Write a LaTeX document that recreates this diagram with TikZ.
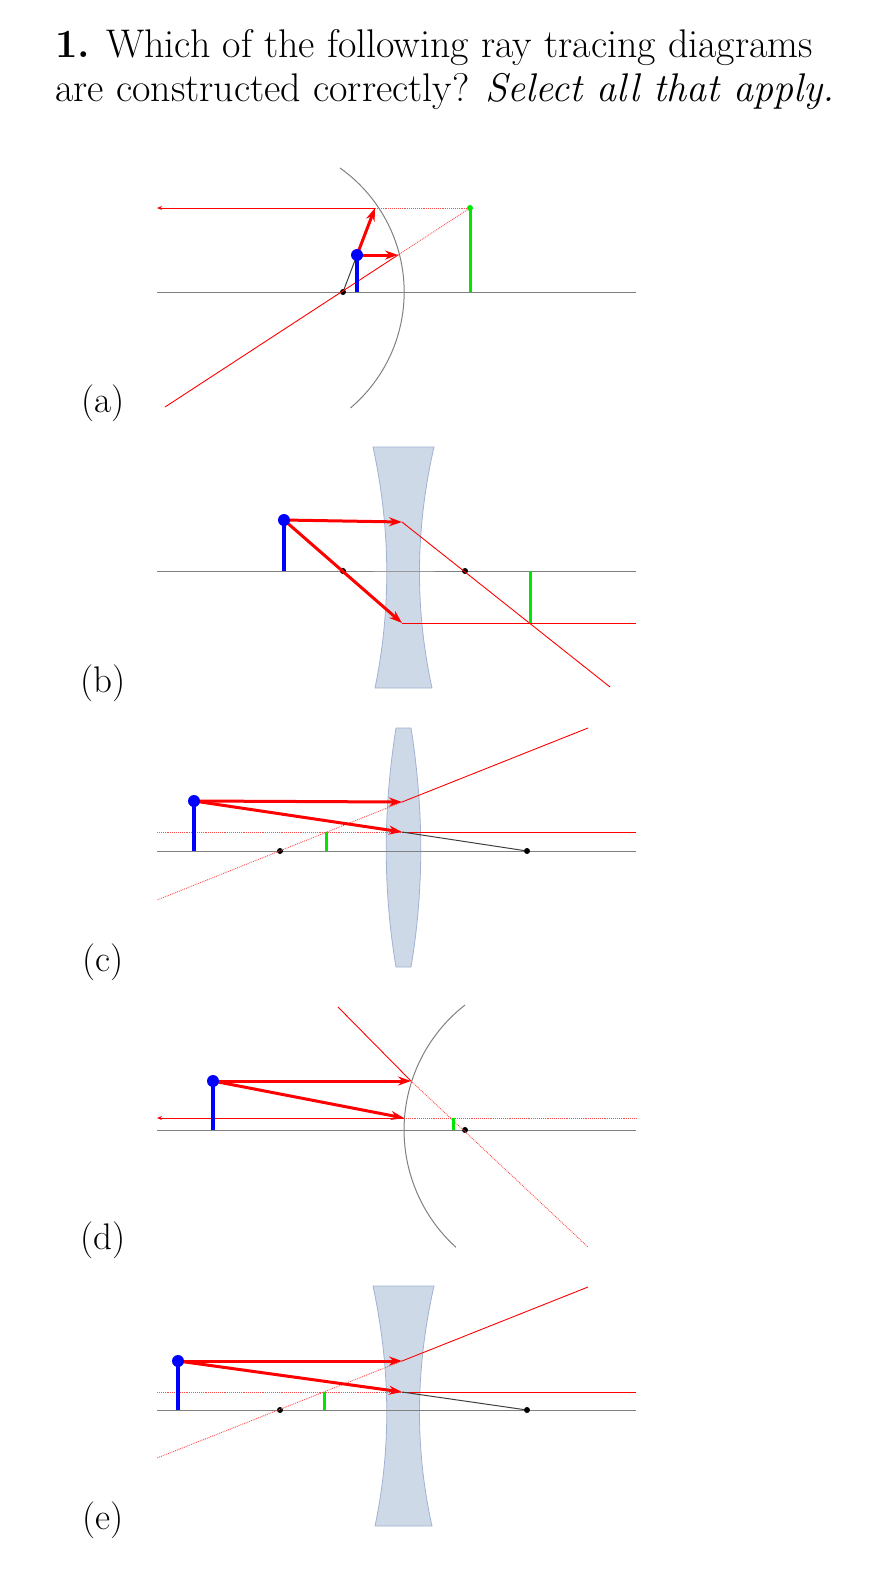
\documentclass[tikz,border=0pt]{standalone}
\usetikzlibrary{arrows.meta}
\definecolor{lensfill}{RGB}{206,217,232}
\definecolor{lensdraw}{RGB}{160,178,210}
\definecolor{imgreen}{RGB}{0,230,0}
\tikzset{
 axis/.style={draw=gray, line width=1pt},
 mirror/.style={draw=gray, line width=1pt},
 lens/.style={fill=lensfill, draw=lensdraw, line width=0.8pt},
 bigray/.style={draw=red, line width=3pt, -{Stealth[length=13pt,width=9pt]}},
 ray/.style={draw=red, line width=0.9pt},
 vray/.style={draw=red!70, line width=0.9pt, densely dotted},
 obj/.style={draw=blue, line width=4pt},
 img/.style={draw=imgreen, line width=3pt},
 fdot/.style={circle, fill=black, inner sep=0pt, minimum size=6pt},
 odot/.style={circle, fill=blue, inner sep=0pt, minimum size=12pt},
 idot/.style={circle, fill=imgreen, inner sep=0pt, minimum size=6pt},
 lbl/.style={font=\fontsize{37}{40}\selectfont},
 back/.style={draw=black!75, line width=1pt}
}
\begin{document}
\begin{tikzpicture}[x=1pt,y=-1pt]
\useasboundingbox (0,0) rectangle (880,1588);
\node[anchor=north west, inner sep=0pt, font=\fontsize{40}{44}\selectfont, align=left] (title) at (55,29) {\textbf{1.} Which of the following ray tracing diagrams\\are constructed correctly? \textit{Select all that apply.}};
% (a)
\node[lbl] (la) at (103,403) {(a)};
\draw[axis] (157,292) -- (636,292);
\draw[mirror] (340,168) arc[start angle=-54.7, end angle=49.7, radius=152];
\coordinate (aO) at (357,255); \coordinate (aM1) at (375,208); \coordinate (aM2) at (398,255);
\coordinate (aI) at (470,208); \coordinate (aL) at (157,208); \coordinate (aS) at (165,407);
\node[fdot] (aF) at (343,292) {};
\draw[vray] (aM1) -- (aI);
\draw[vray] (aM2) -- (aI);
\draw[ray, -{Stealth[length=5pt,width=4pt]}] (aM1) -- (aL);
\draw[ray] (aS) -- (aM2);
\draw[back] (aF) -- (aO);
\draw[obj] (357,292) -- (aO);
\draw[img] (470,292) -- (aI);
\node[idot] (aId) at (aI) {};
\draw[bigray] (aO) -- (aM1);
\draw[bigray] (aO) -- (aM2);
\node[odot] (aOd) at (aO) {};
% (b)
\node[lbl] (lb) at (103,683) {(b)};
\draw[axis] (157,571) -- (636,571);
\draw[lens] (373,447) -- (434,447) .. controls (415,530) and (415,610) .. (432,688) -- (375,688) .. controls (391,610) and (391,530) .. (373,447) -- cycle;
\draw[axis, draw=gray!80] (373,571) -- (434,571);
\coordinate (bO) at (284,520); \coordinate (bL1) at (402,522); \coordinate (bL2) at (402,623);
\node[fdot] (bF1) at (343,571) {};
\node[fdot] (bF2) at (465,571) {};
\draw[ray] (bL1) -- (610,687);
\draw[ray] (bL2) -- (636,623);
\draw[obj] (284,571) -- (bO);
\draw[img] (530,571) -- (530,623);
\draw[bigray] (bO) -- (bL1);
\draw[bigray] (bO) -- (bL2);
\node[odot] (bOd) at (bO) {};
% (c)
\node[lbl] (lc) at (103,962) {(c)};
\draw[lens] (396,728) -- (411,728) .. controls (424,810) and (424,890) .. (411,967) -- (396,967) .. controls (383,890) and (383,810) .. (396,728) -- cycle;
\draw[axis] (157,851) -- (636,851);
\coordinate (cO) at (194,801); \coordinate (cL1) at (402,802); \coordinate (cL2) at (402,832);
\node[fdot] (cF1) at (280,851) {};
\node[fdot] (cF2) at (527,851) {};
\draw[vray] (157,832) -- (cL2);
\draw[ray] (cL2) -- (636,832);
\draw[vray] (cL1) -- (157,900);
\draw[ray] (cL1) -- (588,728);
\draw[back] (cL2) -- (cF2);
\draw[img] (326,851) -- (326,832);
\draw[obj] (194,851) -- (cO);
\draw[bigray] (cO) -- (cL1);
\draw[bigray] (cO) -- (cL2);
\node[odot] (cOd) at (cO) {};
% (d)
\node[lbl] (ld) at (103,1240) {(d)};
\draw[axis] (157,1130) -- (636,1130);
\draw[mirror] (465,1005) arc[start angle=232, end angle=132.3, radius=158.6];
\coordinate (dO) at (213,1081); \coordinate (dM1) at (411,1081); \coordinate (dM2) at (404,1118);
\node[fdot] (dF) at (465,1130) {};
\draw[vray] (dM2) -- (636,1118);
\draw[ray, -{Stealth[length=5pt,width=4pt]}] (dM2) -- (157,1118);
\draw[ray] (338,1007) -- (dM1);
\draw[vray] (dM1) -- (588,1247);
\draw[img] (453,1130) -- (453,1118);
\draw[obj] (213,1130) -- (dO);
\draw[bigray] (dO) -- (dM1);
\draw[bigray] (dO) -- (dM2);
\node[odot] (dOd) at (dO) {};
% (e)
\node[lbl] (le) at (103,1520) {(e)};
\draw[lens] (373,1286) -- (434,1286) .. controls (415,1370) and (415,1450) .. (432,1526) -- (375,1526) .. controls (391,1450) and (391,1370) .. (373,1286) -- cycle;
\draw[axis] (157,1410) -- (636,1410);
\coordinate (eO) at (178,1361); \coordinate (eL1) at (402,1361); \coordinate (eL2) at (402,1392);
\node[fdot] (eF1) at (280,1410) {};
\node[fdot] (eF2) at (527,1410) {};
\draw[vray] (157,1392) -- (eL2);
\draw[ray] (eL2) -- (636,1392);
\draw[vray] (eL1) -- (157,1458);
\draw[ray] (eL1) -- (588,1287);
\draw[back] (eL2) -- (eF2);
\draw[img] (324,1410) -- (324,1392);
\draw[obj] (178,1410) -- (eO);
\draw[bigray] (eO) -- (eL1);
\draw[bigray] (eO) -- (eL2);
\node[odot] (eOd) at (eO) {};
\end{tikzpicture}
\end{document}
